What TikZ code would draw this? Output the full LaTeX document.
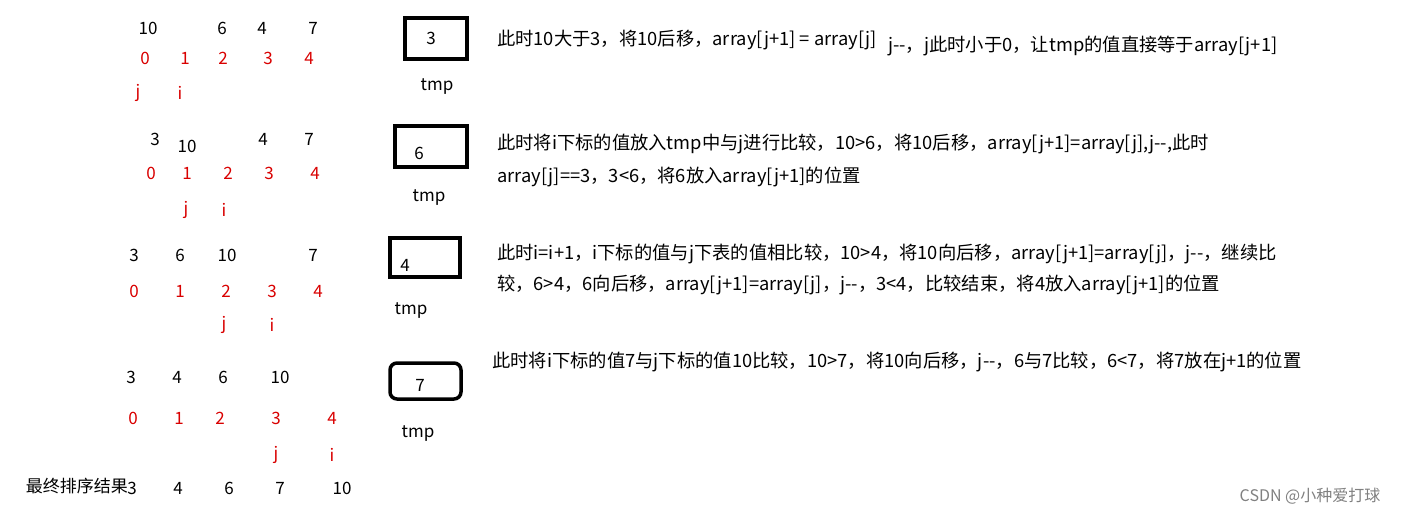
\documentclass[tikz,border=0pt]{standalone}
\usepackage{fontspec}
\setmainfont{Noto Sans CJK SC}
\begin{document}
\begin{tikzpicture}[x=1pt,y=-1pt,
  every node/.style={inner sep=0pt,font=\fontsize{17}{19}\selectfont},
  num/.style={},
  idx/.style={text=red!85!black},
  tbox/.style={draw,line width=3.5pt},
  txt/.style={anchor=west,font=\fontsize{18.3}{21}\selectfont}]
\useasboundingbox (0,0) rectangle (1410,516);
% row 1
\foreach \x/\t [count=\k] in {148/10,222/6,262/4,313/7} \node[num] (a\k) at (\x,28) {\t};
\foreach \x/\t [count=\k] in {145/0,185/1,223/2,268/3,309/4} \node[idx] (ia\k) at (\x,58) {\t};
\node[idx] (ja) at (138,93) {j}; \node[idx] (iia) at (180,93) {i};
\draw[tbox] (405,18) rectangle (467,59); \node (b1) at (431,38) {3};
\node (t1) at (437,87) {tmp};
\node[txt] (x1) at (497,40) {此时10大于3，将10后移，array[j+1] = array[j]};
\node[txt] (x1b) at (888,46) {j-{}-，j此时小于0，让tmp的值直接等于array[j+1]};
% row 2
\node (b21) at (155,139) {3}; \node (b22) at (187,146) {10};
\node (b23) at (263,139) {4}; \node (b24) at (309,139) {7};
\foreach \x/\t [count=\k] in {151/0,187/1,228/2,269/3,315/4} \node[idx] (ib\k) at (\x,173) {\t};
\node[idx] (jb) at (186,210) {j}; \node[idx] (iib) at (224,210) {i};
\draw[tbox] (395,126) rectangle (467,167); \node (b2) at (419,153) {6};
\node (t2) at (429,198) {tmp};
\node[txt] (x2) at (497,144) {此时将i下标的值放入tmp中与j进行比较，10>6，将10后移，array[j+1]=array[j],j-{}-,此时};
\node[txt] (x2b) at (497,177) {array[j]==3，3<6，将6放入array[j+1]的位置};
% row 3
\foreach \x/\t [count=\k] in {134/3,180/6,227/10,313/7} \node[num] (c\k) at (\x,255) {\t};
\foreach \x/\t [count=\k] in {134/0,180/1,226/2,272/3,318/4} \node[idx] (ic\k) at (\x,291) {\t};
\node[idx] (jc) at (224,325) {j}; \node[idx] (iic) at (272,325) {i};
\draw[tbox] (390,238) rectangle (460,277); \node (b3) at (405,265) {4};
\node (t3) at (411,311) {tmp};
\node[txt] (x3) at (497,254) {此时i=i+1，i下标的值与j下表的值相比较，10>4，将10向后移，array[j+1]=array[j]，j-{}-，继续比};
\node[txt] (x3b) at (497,285) {较，6>4，6向后移，array[j+1]=array[j]，j-{}-，3<4，比较结束，将4放入array[j+1]的位置};
% row 4
\foreach \x/\t [count=\k] in {131/3,177/4,223/6,280/10} \node[num] (d\k) at (\x,377) {\t};
\foreach \x/\t [count=\k] in {133/0,179/1,220/2,276/3,332/4} \node[idx] (id\k) at (\x,418) {\t};
\node[idx] (jd) at (276,455) {j}; \node[idx] (iid) at (332,455) {i};
\draw[tbox,rounded corners=7pt] (390,363) rectangle (461,399); \node (b4) at (420,385) {7};
\node (t4) at (418,434) {tmp};
\node[txt] (x4) at (492,362) {此时将i下标的值7与j下标的值10比较，10>7，将10向后移，j-{}-，6与7比较，6<7，将7放在j+1的位置};
% final
\node[anchor=east] (fl) at (128,486) {最终排序结果};
\foreach \x/\t [count=\k] in {132/3,178/4,229/6,280/7,342/10} \node[num] (e\k) at (\x,488) {\t};
\node[text=gray,font=\fontsize{16}{18}\selectfont] (wm) at (1310,496) {CSDN @小种爱打球};
\end{tikzpicture}
\end{document}
